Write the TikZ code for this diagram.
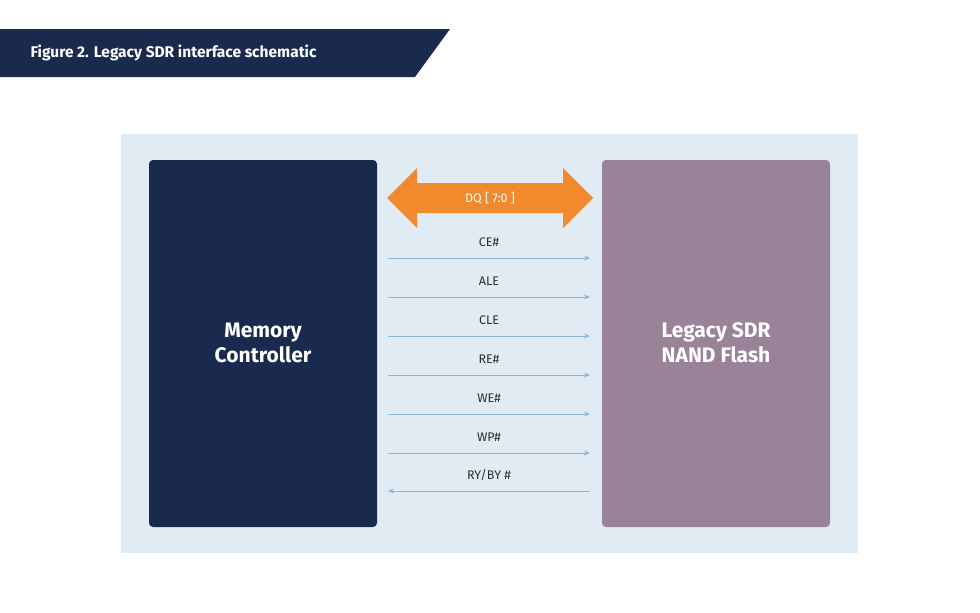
\documentclass[tikz,border=0pt]{standalone}
\usepackage{fontspec}
\setmainfont{Fira Sans}
\usetikzlibrary{arrows.meta}
\definecolor{navy}{HTML}{1A2A4F}
\definecolor{panel}{HTML}{E1EBF4}
\definecolor{mauve}{HTML}{9A8399}
\definecolor{orng}{HTML}{F08A2C}
\definecolor{sig}{HTML}{8DB6DC}
\definecolor{txt}{HTML}{2A2F3A}
\begin{document}
\begin{tikzpicture}[x=1pt,y=-1pt,
  box/.style={rounded corners=4pt,draw=none},
  big/.style={font=\fontsize{21}{25}\selectfont\bfseries,text=white,align=center},
  lab/.style={font=\fontsize{12.5}{14}\selectfont,text=txt},
  sigline/.style={draw=sig,line width=0.8pt,-{Stealth[length=6pt,width=5pt]}}]
\useasboundingbox (0,0) rectangle (980,613);
\fill[white] (0,0) rectangle (980,613);
\fill[navy] (0,29) -- (450,29) -- (415,77) -- (0,77) -- cycle;
\node[font=\fontsize{15.5}{18}\selectfont\bfseries,text=white,anchor=west] (title) at (27,53) {Figure 2. Legacy SDR interface schematic};
\fill[panel] (121,134) rectangle (858,553);
\fill[box,navy] (149,160) rectangle (377,527);
\fill[box,mauve] (602,160) rectangle (830,527);
\node[big] (mc) at (263,343) {Memory\\Controller};
\node[big] (nf) at (716,343) {Legacy SDR\\NAND Flash};
\fill[orng] (387,198) -- (417,168) -- (417,183) -- (563,183) -- (563,168) -- (593,198) -- (563,228) -- (563,213) -- (417,213) -- (417,228) -- cycle;
\node[font=\fontsize{12.5}{14}\selectfont,text=white] (dq) at (490,198) {DQ [ 7:0 ]};
\foreach \y/\t/\n in {258/CE\#/a,297/ALE/b,336/CLE/c,375/RE\#/d,414/WE\#/e,453/WP\#/f}{
  \coordinate (s\n) at (388,\y);
  \coordinate (e\n) at (590,\y);
  \draw[sigline] (s\n) -- (e\n);
  \node[lab] (l\n) at (489,\y-16) {\t};
}
\coordinate (sg) at (590,491);
\coordinate (eg) at (388,491);
\draw[sigline] (sg) -- (eg);
\node[lab] (lg) at (489,475) {RY/BY \#};
\end{tikzpicture}
\end{document}
